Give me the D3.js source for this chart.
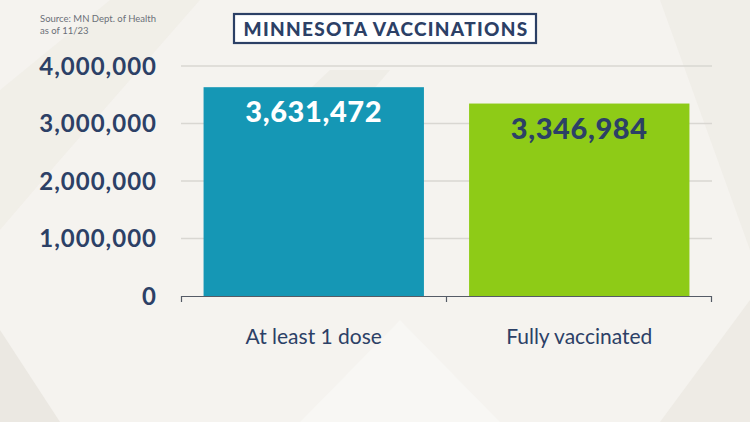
<!DOCTYPE html>
<html>
<head>
<meta charset="utf-8">
<script src="https://cdn.jsdelivr.net/npm/d3@7"></script>
<style>
  body { margin: 0; background: #f5f3ef; }
  svg { display: block; }
</style>
</head>
<body>
<svg id="chart" width="750" height="422"></svg>
<script>
// data
const categories = ['At least 1 dose', 'Fully vaccinated']
const values = [3631472, 3346984]
const barColors = ['#1597b5', '#8ecb17']
const labelColors = ['#ffffff', '#2c4066']
const yTicks = [0, 1000000, 2000000, 3000000, 4000000]

const navy = '#2c4066'
const W = 750, H = 422
const margin = { top: 66, right: 38, bottom: 126, left: 181 }
const width = W - margin.left - margin.right
const height = H - margin.top - margin.bottom

const root = d3.select('#chart')

// faint background chevrons
const bg = root.append('g')
bg.append('rect').attr('width', W).attr('height', H).attr('fill', '#f5f3ef')
bg.append('path')
  .attr('d', 'M0,90 L110,0 L200,0 L60,160 L0,230 Z')
  .attr('fill', '#efece6').attr('opacity', 0.7)
bg.append('path')
  .attr('d', 'M235,160 L330,70 L390,70 L300,175 L390,280 L330,280 Z')
  .attr('fill', '#eeebe5').attr('opacity', 0.8)
bg.append('path')
  .attr('d', 'M0,330 L60,422 L0,422 Z')
  .attr('fill', '#ebe8e2')
bg.append('path')
  .attr('d', 'M660,0 L750,0 L750,250 Z')
  .attr('fill', '#efece6').attr('opacity', 0.8)
bg.append('path')
  .attr('d', 'M750,300 L750,422 L660,422 Z')
  .attr('fill', '#eeebe5')
bg.append('path')
  .attr('d', 'M300,422 L400,320 L500,422 Z')
  .attr('fill', '#f8f7f4')

// source note
root.append('text')
  .attr('x', 40).attr('y', 22)
  .attr('font-family', 'Lato, sans-serif').attr('font-size', 9.5)
  .attr('fill', '#6b6f78')
  .text('Source: MN Dept. of Health')
root.append('text')
  .attr('x', 40).attr('y', 34)
  .attr('font-family', 'Lato, sans-serif').attr('font-size', 9.5)
  .attr('fill', '#6b6f78')
  .text('as of 11/23')

// title in a box
root.append('rect')
  .attr('x', 234).attr('y', 14).attr('width', 302).attr('height', 29)
  .attr('fill', '#ffffff').attr('stroke', navy).attr('stroke-width', 2.2)
root.append('text')
  .attr('x', 386).attr('y', 36)
  .attr('text-anchor', 'middle')
  .attr('font-family', 'Lato, sans-serif').attr('font-weight', 900)
  .attr('font-size', 19)
  .attr('letter-spacing', 1.3)
  .attr('fill', navy)
  .text('MINNESOTA VACCINATIONS')

const svg = root.append('g')
  .attr('transform', `translate(${margin.left}, ${margin.top})`)

const yScale = d3.scaleLinear()
  .domain([0, 4000000])
  .range([height, 0])

const xScale = d3.scaleBand()
  .domain(categories)
  .range([0, width])
  .paddingInner(0.17)
  .paddingOuter(0.085)

// gridlines
svg.append('g')
  .selectAll('line')
  .data(yTicks.filter(d => d > 0))
  .enter()
  .append('line')
    .attr('x1', 0).attr('x2', width)
    .attr('y1', d => yScale(d)).attr('y2', d => yScale(d))
    .attr('stroke', '#d9d7d2').attr('stroke-width', 1.3)

// y axis labels
const yAxis = d3.axisLeft(yScale)
  .tickValues(yTicks)
  .tickFormat(d3.format(','))
  .tickSize(0)
  .tickPadding(24)
svg.append('g')
  .call(yAxis)
  .call(g => g.select('.domain').remove())
  .selectAll('text')
    .attr('font-family', 'Lato, sans-serif')
    .attr('font-weight', 700)
    .attr('font-size', 24)
    .attr('letter-spacing', 1)
    .attr('fill', navy)
    .attr('dy', '0.35em')

// bars
svg.selectAll('rect.bar')
  .data(values)
  .enter()
  .append('rect')
    .attr('class', 'bar')
    .attr('x', (d, i) => xScale(categories[i]))
    .attr('y', d => yScale(d))
    .attr('width', xScale.bandwidth())
    .attr('height', d => height - yScale(d))
    .attr('fill', (d, i) => barColors[i])

// value labels
svg.selectAll('text.value')
  .data(values)
  .enter()
  .append('text')
    .attr('class', 'value')
    .attr('x', (d, i) => xScale(categories[i]) + xScale.bandwidth() / 2)
    .attr('y', d => yScale(d) + 35)
    .attr('text-anchor', 'middle')
    .attr('font-family', 'Lato, sans-serif')
    .attr('font-weight', 900)
    .attr('font-size', 29)
    .attr('letter-spacing', 0.6)
    .attr('fill', (d, i) => labelColors[i])
    .text(d => d3.format(',')(d))

// x axis
const xAxis = d3.axisBottom(xScale).tickSize(0).tickPadding(33)
const gx = svg.append('g')
  .attr('transform', `translate(0, ${height})`)
  .call(xAxis)
gx.select('.domain')
  .attr('d', `M0.5,6V0.5H${width - 0.5}V6`)
  .attr('stroke', '#555b66').attr('stroke-width', 1.2).attr('fill', 'none')
gx.append('line')
  .attr('x1', width / 2).attr('x2', width / 2)
  .attr('y1', 0).attr('y2', 6)
  .attr('stroke', '#555b66').attr('stroke-width', 1.2)
gx.selectAll('text')
  .attr('font-family', 'Lato, sans-serif')
  .attr('font-size', 21)
  .attr('fill', navy)
</script>
</body>
</html>
